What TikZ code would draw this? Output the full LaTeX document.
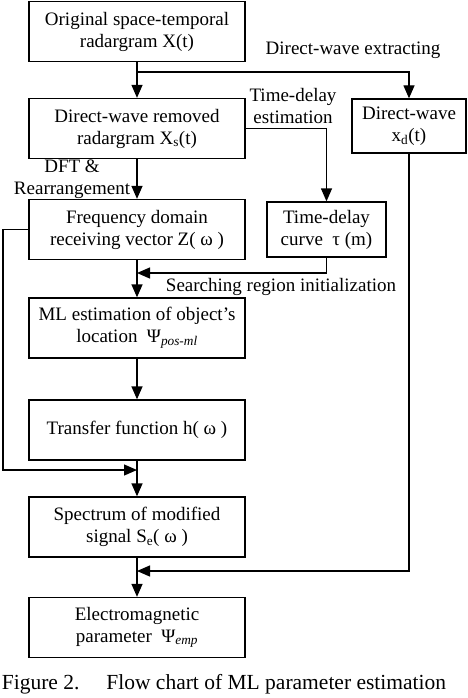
\documentclass[tikz,border=0pt]{standalone}
\usepackage{fontspec}
\setmainfont{Liberation Serif}
\usetikzlibrary{arrows.meta}
\begin{document}
\begin{tikzpicture}[x=1pt,y=-1pt,
                box/.style={draw,line width=1.3pt,align=center,minimum width=216pt,minimum height=60pt,inner sep=1pt,font=\fontsize{19}{22}\selectfont},
                arr/.style={line width=1.3pt,-{Triangle[length=13pt,width=11pt]}},
                lbl/.style={font=\fontsize{19}{22}\selectfont,align=center,inner sep=0pt}]
                \useasboundingbox (0,0) rectangle (468,698);
                \node[box](ORIG) at (137,31.5) {Original space-temporal\\radargram X(t)};
                \node[box](REMV) at (137,128.5) {Direct-wave removed\\radargram X\textsubscript{s}(t)};
                \node[box,minimum width=114pt,minimum height=54pt](DWAV) at (409,126) {Direct-wave\\x\textsubscript{d}(t)};
                \node[box](FREQ) at (137,229.5) {Frequency domain\\receiving vector Z( ω )};
                \node[box,minimum width=119pt,minimum height=55pt](TDC) at (326.5,229.5) {Time-delay\\curve \ τ (m)};
                \node[box](MLE) at (137,328) {ML estimation of object's\\location \ Ψ\textsubscript{\textit{pos-ml}}};
                \node[box](TRF) at (137,430) {Transfer function h( ω )};
                \node[box](SPEC) at (137,527) {Spectrum of modified\\signal S\textsubscript{e}( ω )};
                \node[box](EMP) at (137,627.5) {Electromagnetic\\parameter \ Ψ\textsubscript{\textit{emp}}};
                \coordinate (SPLIT) at (137,72);
                \coordinate (JOIN1) at (137,273);
                \coordinate (JOIN2) at (137,470);
                \coordinate (JOIN3) at (137,571);
                \coordinate (LFT) at (3,0);
                \node[lbl](EXTR) at (353,50) {Direct-wave extracting};
                \node[lbl](TDEST) at (293,106) {Time-delay\\estimation};
                \node[lbl](DFT) at (72,179) {DFT \&\\Rearrangement};
                \node[lbl](SRCH) at (281,287) {Searching region initialization};
                \node[lbl,font=\fontsize{21.5}{24}\selectfont](CAP) at (224,684) {Figure 2.\quad\ Flow chart of ML parameter estimation};
                \draw[arr] (ORIG) -- (REMV);
                \draw[arr] (SPLIT) -| (DWAV.north);
                \draw[arr] (REMV.east) -| (TDC.north);
                \draw[arr] (REMV) -- (FREQ);
                \draw[arr] (FREQ) -- (MLE);
                \draw[arr] (TDC.south) |- (JOIN1);
                \draw[arr] (MLE) -- (TRF);
                \draw[arr] (FREQ.west) -- (FREQ.west -| LFT) |- (JOIN2);
                \draw[arr] (TRF) -- (SPEC);
                \draw[arr] (DWAV.south) |- (JOIN3);
                \draw[arr] (SPEC) -- (EMP);
            \end{tikzpicture}
\end{document}
